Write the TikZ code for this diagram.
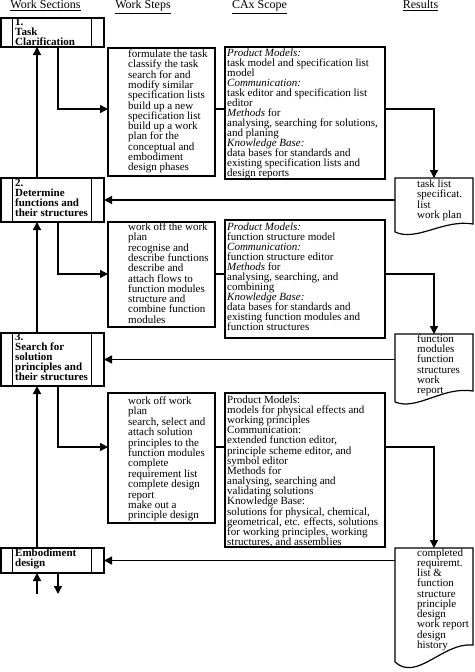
\documentclass[tikz,border=0pt]{standalone}
\usepackage{fontspec}
\setmainfont{Liberation Serif}
\usetikzlibrary{arrows.meta}
\lineskiplimit=-5pt
\begin{document}
\begin{tikzpicture}[x=1pt,y=-1pt,
  box/.style={draw,line width=1.2pt,fill=white,inner sep=0pt,outer sep=0pt,anchor=north west},
  docbox/.style={inner sep=0pt,outer sep=0pt,anchor=north west},
  txt/.style={inner sep=0pt,anchor=north west,align=left,font=\fontsize{11}{#1}\selectfont},
  txt/.default=10,
  sect/.style={inner sep=0pt,anchor=north west,align=left,font=\fontsize{11}{10}\selectfont\bfseries},
  arr/.style={line width=1.4pt,-{Triangle[length=8pt,width=8pt]}},
  con/.style={line width=1.4pt},
  docline/.style={line width=1.2pt},
  hdr/.style={anchor=base,font=\fontsize{12}{14}\selectfont,inner sep=0pt}]
\useasboundingbox[fill=white] (0,0) rectangle (474,672);

% headers
\node[hdr] (h1) at (45.5,8.8) {\underline{Work Sections}};
\node[hdr] (h2) at (143,8.8) {\underline{Work Steps}};
\node[hdr] (h3) at (259.5,8.8) {\underline{CAx Scope}};
\node[hdr] (h4) at (420.5,8.8) {\underline{Results}};

% work sections
\node[box,minimum width=103pt,minimum height=29pt] (s1) at (1,18) {};
\node[box,minimum width=103pt,minimum height=44pt] (s2) at (1,178) {};
\node[box,minimum width=103pt,minimum height=53pt] (s3) at (1,333) {};
\node[box,minimum width=103pt,minimum height=25pt] (s4) at (1,548) {};
\foreach \n in {s1,s2,s3,s4}{
  \draw[line width=1.2pt] ([xshift=11.5pt]\n.north west) -- ([xshift=11.5pt]\n.south west);
  \draw[line width=1.2pt] ([xshift=-12.5pt]\n.north east) -- ([xshift=-12.5pt]\n.south east);
}

% work steps
\node[box,minimum width=107pt,minimum height=128pt] (w1) at (108,48) {};
\node[box,minimum width=107pt,minimum height=105pt] (w2) at (108,222) {};
\node[box,minimum width=107pt,minimum height=130pt] (w3) at (108,393) {};

% CAx scope
\node[box,minimum width=160pt,minimum height=132pt] (c1) at (225,47) {};
\node[box,minimum width=160pt,minimum height=118pt] (c2) at (225,220) {};
\node[box,minimum width=160pt,minimum height=154pt] (c3) at (225,393) {};

% results (document shapes)
\node[docbox,minimum width=78pt,minimum height=54pt] (r1) at (395,178) {};
\node[docbox,minimum width=78pt,minimum height=68pt] (r2) at (395,334) {};
\node[docbox,minimum width=78pt,minimum height=114pt] (r3) at (395,548) {};
\draw[docline] (r1.south west) -- (r1.north west) -- (r1.north east) -- ([yshift=8pt]r1.south east)
  .. controls +(-30,-5) and +(22,10) .. (r1.south west);
\draw[docline] (r2.south west) -- (r2.north west) -- (r2.north east) -- ([yshift=11pt]r2.south east)
  .. controls +(-30,-5) and +(22,9) .. (r2.south west);
\draw[docline] (r3.south west) -- (r3.north west) -- (r3.north east) -- ([yshift=17pt]r3.south east)
  .. controls +(-30,-3) and +(22,20) .. (r3.south west);

% row levels
\coordinate (y1) at (0,109);
\coordinate (y2) at (0,274);
\coordinate (y3) at (0,447);
\coordinate (f1) at (37,594);
\coordinate (f2) at (58,594);

% connectors
\draw[arr] ([xshift=36pt]s2.north west) -- ([xshift=36pt]s1.south west);
\draw[arr] ([xshift=36pt]s3.north west) -- ([xshift=36pt]s2.south west);
\draw[arr] ([xshift=36pt]s4.north west) -- ([xshift=36pt]s3.south west);
\draw[arr] (f1) -- ([xshift=36pt]s4.south west);
\draw[arr] ([xshift=57pt]s4.south west) -- (f2);

\draw[arr] ([xshift=57pt]s1.south west) |- (w1.west |- y1);
\draw[arr] ([xshift=57pt]s2.south west) |- (w2.west |- y2);
\draw[arr] ([xshift=57pt]s3.south west) |- (w3.west |- y3);

\draw[con] (w1.east |- y1) -- (c1.west |- y1);
\draw[con] (w2.east |- y2) -- (c2.west |- y2);
\draw[con] (w3.east |- y3) -- (c3.west |- y3);

\draw[arr] (c1.east |- y1) -| (r1.north);
\draw[arr] (c2.east |- y2) -| (r2.north);
\draw[arr] (c3.east |- y3) -| (r3.north);

\draw[arr] (r1.west |- s2.east) -- (s2.east);
\draw[arr] (r2.west |- s3.east) -- (s3.east);
\draw[arr] (r3.west |- s4.east) -- (s4.east);

% section texts
\node[sect] (ts1) at (15,18.3) {1.\\Task\\Clarification};
\node[sect] (ts2) at (15,179.3) {2.\\Determine\\functions and\\their structures};
\node[sect] (ts3) at (15,333) {3.\\Search for\\solution\\principles and\\their structures};
\node[sect] (ts4) at (15,548.3) {Embodiment\\design};

% work step texts
\node[txt=10.3] (tw1) at (128,49.6) {formulate the task\\classify the task\\search for and\\modify similar\\specification lists\\build up a new\\specification list\\build up a work\\plan for the\\conceptual and\\embodiment\\design phases};
\node[txt=10.3] (tw2) at (128,222.6) {work off the work\\plan\\recognise and\\describe functions\\describe and\\attach flows to\\function modules\\structure and\\combine function\\modules};
\node[txt=10.4] (tw3) at (128,396.6) {work off work\\plan\\search, select and\\attach solution\\principles to the\\function modules\\complete\\requirement list\\complete design\\report\\make out a\\principle design};

% CAx texts
\node[txt=10] (tc1) at (227,48.3) {\textit{Product Models:}\\task model and specification list\\model\\\textit{Communication:}\\task editor and specification list\\editor\\\textit{Methods} for\\analysing, searching for solutions,\\and planing\\\textit{Knowledge Base:}\\data bases for standards and\\existing specification lists and\\design reports};
\node[txt=10] (tc2) at (227,223) {\textit{Product Models:}\\function structure model\\\textit{Communication:}\\function structure editor\\\textit{Methods} for\\analysing, searching, and\\combining\\\textit{Knowledge Base:}\\data bases for standards and\\existing function modules and\\function structures};
\node[txt=10.16] (tc3) at (227,395.5) {Product Models:\\models for physical effects and\\working principles\\Communication:\\extended function editor,\\principle scheme editor, and\\symbol editor\\Methods for\\analysing, searching and\\validating solutions\\Knowledge Base:\\solutions for physical, chemical,\\geometrical, etc. effects, solutions\\for working principles, working\\structures, and assemblies};

% result texts
\node[txt=10.5] (tr1) at (417,179.3) {task list\\specificat.\\list\\work plan};
\node[txt=10.26] (tr2) at (417,334.5) {function\\modules\\function\\structures\\work\\report};
\node[txt=10.25] (tr3) at (417,548.3) {completed\\requiremt.\\list \&\\function\\structure\\principle\\design\\work report\\design\\history};
\end{tikzpicture}
\end{document}
